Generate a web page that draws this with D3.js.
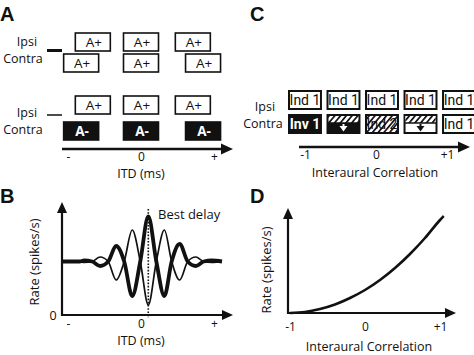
<!DOCTYPE html>
<html><head><meta charset="utf-8">
<script src="https://cdn.jsdelivr.net/npm/d3@7"></script>
<style>
body{margin:0;background:#fff}
svg{display:block}
text{font-family:"Open Sans","Noto Sans",sans-serif;fill:#111}
</style>
</head><body>
<svg id="fig" width="474" height="355"></svg>
<script>
// ---------------- data ----------------
const itdTickValues = [-1, 0, 1];
const itdTickLabels = ["-", "0", "+"];
const aIpsiITD = [-0.66, 0, 0.71];
const aContraITD = [-0.82, 0, 0.85];
const aRow1Ipsi = ["A+", "A+", "A+"];
const aRow1Contra = ["A+", "A+", "A+"];
const aRow2Ipsi = ["A+", "A+", "A+"];
const aRow2Contra = ["A-", "A-", "A-"];

const cColumns = ["-1", "-0.5", "0", "+0.5", "+1"];
const cIpsiLabels = ["Ind 1", "Ind 1", "Ind 1", "Ind 1", "Ind 1"];
const cContraLabels = ["Inv 1", "", "Ind 2", "", "Ind 1"];
const cContraKind = ["inv", "halfInv", "ind", "halfInd", "same"];
const corrTickValues = [-1, 0, 1];
const corrTickLabels = ["-1", "0", "+1"];

const bITD =        [-1.08, -0.84, -0.78, -0.67, -0.56, -0.45, -0.34, -0.23, -0.12, -0.01, 0.10, 0.21, 0.32, 0.42, 0.53, 0.64, 0.75, 0.86, 0.97, 1.11];
const bRateThick =  [53.5, 53.5, 54.5, 53.5, 49, 53.5, 69, 53.5, 19, 53.5, 98.5, 53.5, 19, 53.5, 71, 53.5, 49, 53.5, 54.5, 53.5];
const bRateThin =   [53.5, 53.5, 52.5, 53.5, 58, 53.5, 35, 53.5, 85, 53.5, 10, 53.5, 85, 53.5, 35, 53.5, 58, 53.5, 52.5, 53.5];
const bestDelayITD = 0.10;

const dCorr = [-1, -0.8, -0.6, -0.4, -0.2, 0, 0.2, 0.4, 0.6, 0.8, 1.0, 1.05];
const dRate = [0, 1, 4, 8.5, 15, 23, 33, 45, 59, 75, 93, 97];

// ---------------- setup ----------------
const svg = d3.select("#fig");
const INK = "#111";

const defs = svg.append("defs");
const pat = defs.append("pattern").attr("id", "hatch").attr("patternUnits", "userSpaceOnUse")
  .attr("width", 4.4).attr("height", 4.4).attr("patternTransform", "rotate(40)");
pat.append("rect").attr("width", 4.4).attr("height", 4.4).attr("fill", "#fff");
pat.append("rect").attr("x", 0).attr("y", 0).attr("width", 1.7).attr("height", 4.4).attr("fill", INK);

function arrow(g, x1, y1, x2, y2, w, hl, hh) {
  const ang = Math.atan2(y2 - y1, x2 - x1);
  const len = Math.hypot(x2 - x1, y2 - y1);
  const gg = g.append("g").attr("transform", `translate(${x1},${y1}) rotate(${ang * 180 / Math.PI})`);
  gg.append("line").attr("x1", 0).attr("y1", 0).attr("x2", len - hl + 1).attr("y2", 0)
    .attr("stroke", INK).attr("stroke-width", w);
  gg.append("path").attr("d", `M${len},0L${len - hl},${-hh}L${len - hl},${hh}Z`).attr("fill", INK);
}

function panelLetter(x, y, t) {
  svg.append("text").attr("x", x).attr("y", y).text(t)
    .style("font-family", "'Liberation Sans',Arial,sans-serif").style("font-weight", "bold")
    .style("font-size", "20px");
}

function tickAxis(g, scale, values, labels, y, fs) {
  const ax = d3.axisBottom(scale).tickValues(values).tickFormat((d, i) => labels[i]).tickSize(0).tickPadding(0);
  const a = g.append("g").attr("transform", `translate(0,${y})`).call(ax);
  a.select(".domain").remove();
  a.selectAll("text").attr("dy", null).attr("y", 0)
    .style("font-family", "'Open Sans','Noto Sans',sans-serif").style("font-size", fs + "px").attr("fill", INK);
  return a;
}

// ---------------- Panel A ----------------
const gA = svg.append("g");
panelLetter(0, 21, "A");
const xA = d3.scaleLinear().domain([-1, 1]).range([68, 214]);
const boxW = 35, boxH = 18;

function aRow(labels, itds, top) {
  labels.forEach((lab, i) => {
    const cx = xA(itds[i]);
    const neg = lab === "A-";
    gA.append("rect").attr("x", cx - boxW / 2).attr("y", top).attr("width", boxW).attr("height", boxH)
      .attr("fill", neg ? INK : "#fff").attr("stroke", INK).attr("stroke-width", 1.6);
    gA.append("text").attr("x", cx + 1).attr("y", top + 14).attr("text-anchor", "middle")
      .style("font-size", "13.5px").style("font-weight", neg ? "bold" : "normal")
      .attr("fill", neg ? "#fff" : INK).style("fill", neg ? "#fff" : INK).text(lab);
  });
}
aRow(aRow1Ipsi, aIpsiITD, 33);
aRow(aRow1Contra, aContraITD, 54);
aRow(aRow2Ipsi, aIpsiITD, 96);
aRow(aRow2Contra, aContraITD, 122);

[[45.5, 63, "Ipsi", "Contra"], [116.5, 134, "Ipsi", "Contra"]].forEach(r => {
  gA.append("text").attr("x", 27).attr("y", r[0]).attr("text-anchor", "middle").style("font-size", "12.5px").text(r[2]);
  gA.append("text").attr("x", 23).attr("y", r[1]).attr("text-anchor", "middle").style("font-size", "12.5px").text(r[3]);
});
gA.append("line").attr("x1", 47).attr("x2", 62).attr("y1", 50.5).attr("y2", 50.5).attr("stroke", INK).attr("stroke-width", 3);
gA.append("line").attr("x1", 47).attr("x2", 62).attr("y1", 115).attr("y2", 115).attr("stroke", INK).attr("stroke-width", 1.5);

arrow(gA, 62, 149, 233, 149, 2.6, 12, 5.5);
tickAxis(gA, xA, itdTickValues, itdTickLabels, 160.5, 12);
gA.append("text").attr("x", 141).attr("y", 178).attr("text-anchor", "middle").style("font-size", "12.5px").text("ITD (ms)");

// ---------------- Panel C ----------------
const gC = svg.append("g");
panelLetter(250, 21, "C");
const colC = d3.scaleBand().domain(cColumns).range([289, 475]).paddingInner(0.17);
const xC = d3.scaleLinear().domain([-1, 1]).range([305, 447]);
const cTopY = 91, cBotY = 115, cH = 18;
const narrow = "'Liberation Sans Narrow','Arial Narrow',Roboto,sans-serif";

cColumns.forEach((c, i) => {
  const x = colC(c), w = colC.bandwidth();
  gC.append("rect").attr("x", x).attr("y", cTopY).attr("width", w).attr("height", cH)
    .attr("fill", "#fff").attr("stroke", INK).attr("stroke-width", 2);
  gC.append("text").attr("x", x + w / 2).attr("y", cTopY + 14).attr("text-anchor", "middle")
    .style("font-family", narrow).style("font-size", "14px").text(cIpsiLabels[i]);

  const kind = cContraKind[i];
  const g = gC.append("g");
  const hatchH = 7;
  if (kind === "inv" || kind === "same") {
    g.append("rect").attr("x", x).attr("y", cBotY).attr("width", w).attr("height", cH)
      .attr("fill", kind === "inv" ? INK : "#fff").attr("stroke", INK).attr("stroke-width", 2);
  } else if (kind === "ind") {
    g.append("rect").attr("x", x).attr("y", cBotY).attr("width", w).attr("height", cH)
      .attr("fill", "url(#hatch)").attr("stroke", INK).attr("stroke-width", 2);
  } else {
    const dark = kind === "halfInv";
    g.append("rect").attr("x", x).attr("y", cBotY).attr("width", w).attr("height", cH)
      .attr("fill", dark ? INK : "#fff").attr("stroke", INK).attr("stroke-width", 2);
    g.append("rect").attr("x", x + 1).attr("y", cBotY + 1).attr("width", w - 2).attr("height", hatchH)
      .attr("fill", "url(#hatch)");
    g.append("line").attr("x1", x).attr("x2", x + w).attr("y1", cBotY + hatchH + 1).attr("y2", cBotY + hatchH + 1)
      .attr("stroke", INK).attr("stroke-width", 1.4);
    const col = dark ? "#fff" : INK, ax = x + w / 2;
    g.append("line").attr("x1", ax).attr("x2", ax).attr("y1", cBotY + hatchH + 2).attr("y2", cBotY + cH - 5)
      .attr("stroke", col).attr("stroke-width", 2);
    g.append("path").attr("d", `M${ax},${cBotY + cH - 1.5}L${ax - 4},${cBotY + cH - 7}L${ax + 4},${cBotY + cH - 7}Z`).attr("fill", col);
  }
  if (cContraLabels[i]) {
    const inv = kind === "inv";
    g.append("text").attr("x", x + w / 2).attr("y", cBotY + 14).attr("text-anchor", "middle")
      .style("font-family", narrow).style("font-size", "14px").style("font-weight", inv ? "bold" : "normal")
      .style("fill", inv ? "#fff" : INK).text(cContraLabels[i]);
  }
});
gC.append("text").attr("x", 265).attr("y", 111).attr("text-anchor", "middle").style("font-size", "12.5px").text("Ipsi");
gC.append("text").attr("x", 263).attr("y", 128).attr("text-anchor", "middle").style("font-size", "12.5px").text("Contra");
arrow(gC, 299, 147, 470, 147, 2.6, 12, 5.5);
tickAxis(gC, xC, corrTickValues, corrTickLabels, 159, 12);
gC.append("text").attr("x", 375).attr("y", 177).attr("text-anchor", "middle").style("font-size", "12.5px").text("Interaural Correlation");

// ---------------- Panel B ----------------
const gB = svg.append("g");
panelLetter(0, 203, "B");
const xB = d3.scaleLinear().domain([-1, 1]).range([68, 214]);
const yB = d3.scaleLinear().domain([0, 110]).range([315, 205]);
const lineB = d3.line().x(d => xB(d[0])).y(d => yB(d[1])).curve(d3.curveMonotoneX);
gB.append("path").datum(bITD.map((t, i) => [t, bRateThin[i]])).attr("d", lineB)
  .attr("fill", "none").attr("stroke", INK).attr("stroke-width", 1.7);
gB.append("path").datum(bITD.map((t, i) => [t, bRateThick[i]])).attr("d", lineB)
  .attr("fill", "none").attr("stroke", INK).attr("stroke-width", 3.8);
gB.append("line").attr("x1", xB(bestDelayITD)).attr("x2", xB(bestDelayITD)).attr("y1", 209).attr("y2", 318)
  .attr("stroke", INK).attr("stroke-width", 1.6).attr("stroke-dasharray", "1.6,1.6");
gB.append("text").attr("x", 158).attr("y", 219).style("font-size", "13px").text("Best delay");
arrow(gB, 62, 316, 62, 202, 2.2, 11, 5);
arrow(gB, 61, 315, 233, 315, 2.2, 11, 5);
gB.append("text").attr("x", 53).attr("y", 320).attr("text-anchor", "middle").style("font-size", "12.5px").text("0");
tickAxis(gB, xB, itdTickValues, itdTickLabels, 328, 12);
gB.append("text").attr("x", 141).attr("y", 345).attr("text-anchor", "middle").style("font-size", "12.5px").text("ITD (ms)");
gB.append("text").attr("transform", "translate(39,262) rotate(-90)").attr("text-anchor", "middle")
  .style("font-size", "13px").text("Rate (spikes/s)");

// ---------------- Panel D ----------------
const gD = svg.append("g");
panelLetter(250, 203, "D");
const xD = d3.scaleLinear().domain([-1, 1]).range([290, 440]);
const yD = d3.scaleLinear().domain([0, 100]).range([313, 213]);
gD.append("path").datum(dCorr.map((c, i) => [c, dRate[i]]))
  .attr("d", d3.line().x(d => xD(d[0])).y(d => yD(d[1])).curve(d3.curveMonotoneX))
  .attr("fill", "none").attr("stroke", INK).attr("stroke-width", 2.6);
arrow(gD, 288, 314, 288, 208, 2.2, 11, 5);
arrow(gD, 287, 313, 456, 313, 2.2, 11, 5);
tickAxis(gD, xD, corrTickValues, corrTickLabels, 331, 12);
gD.append("text").attr("x", 369).attr("y", 351).attr("text-anchor", "middle").style("font-size", "12.5px").text("Interaural Correlation");
gD.append("text").attr("transform", "translate(271,270) rotate(-90)").attr("text-anchor", "middle")
  .style("font-size", "13px").text("Rate (spikes/s)");
</script>
</body></html>
